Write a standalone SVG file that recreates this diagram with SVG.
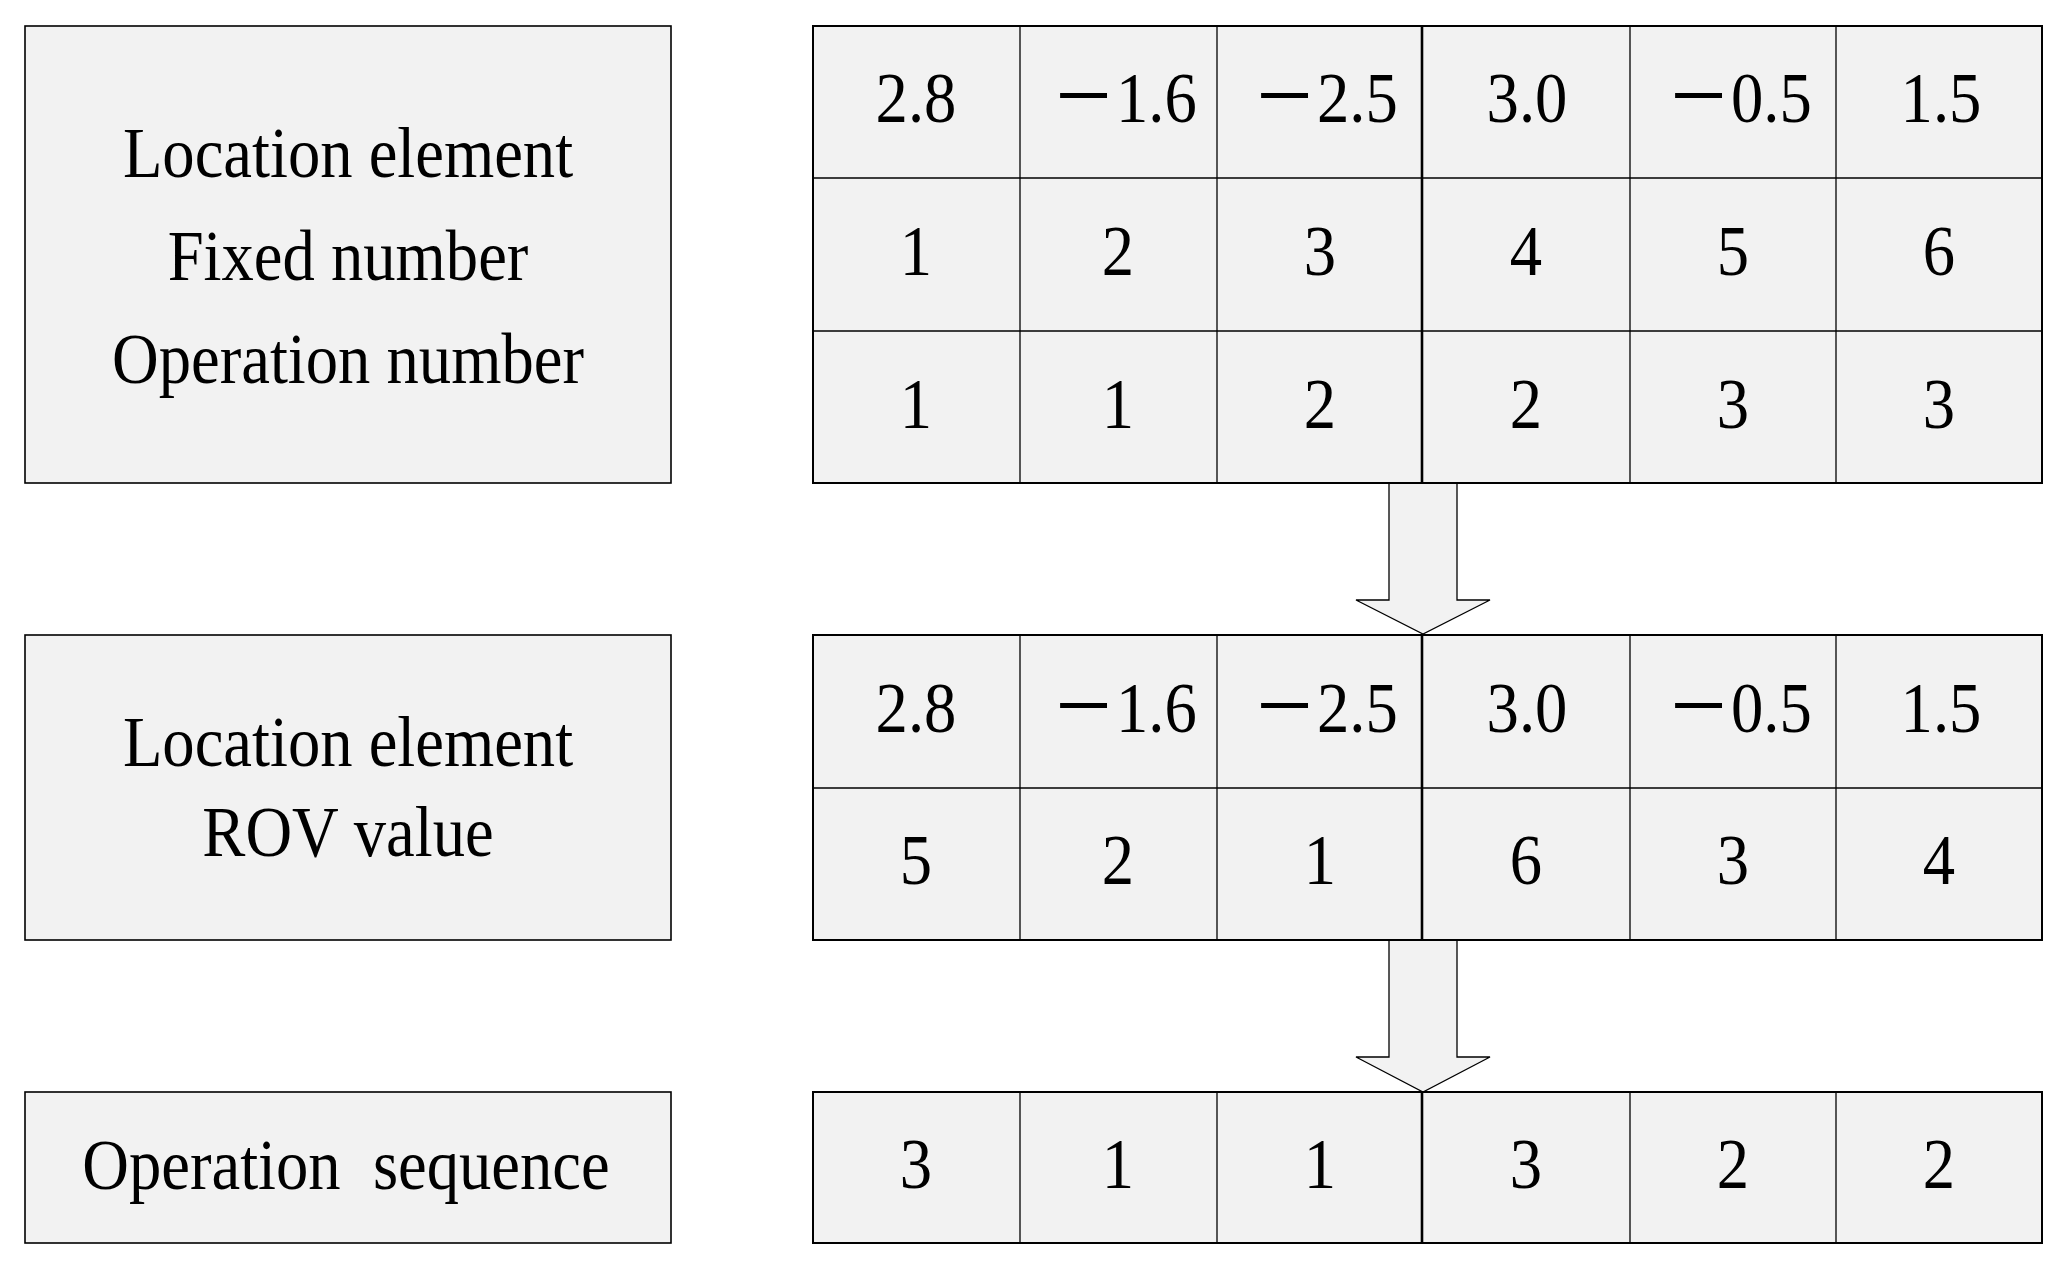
<svg xmlns="http://www.w3.org/2000/svg" width="2063" height="1276" viewBox="0 0 2063 1276">
<style>
  .bg { fill: #ffffff; }
  .box { fill: #f2f2f2; stroke: #000; stroke-width: 1.6; }
  .cell { fill: #f2f2f2; stroke: #000; stroke-width: 1.3; }
  .frame { fill: none; stroke: #000; stroke-width: 2; }
  .mid { stroke: #000; stroke-width: 2.6; }
  .arrow { fill: #f2f2f2; stroke: #000; stroke-width: 1.3; stroke-linejoin: miter; }
  text { font-family: "Liberation Serif", "Times New Roman", "Noto Sans CJK SC", serif; font-size: 71px; fill: #000; text-anchor: middle; }
</style>
<rect class="bg" x="0" y="0" width="2063" height="1276"/>

<g id="label-1">
  <rect class="box" x="25" y="26" width="646" height="457"/>
  <text transform="translate(348,177) scale(0.91,1)">Location element</text>
  <text transform="translate(348,280) scale(0.91,1)">Fixed number</text>
  <text transform="translate(348,383) scale(0.91,1)">Operation number</text>
</g>

<g id="label-2">
  <rect class="box" x="25" y="635" width="646" height="305"/>
  <text transform="translate(348,766) scale(0.91,1)">Location element</text>
  <text transform="translate(348,856) scale(0.91,1)">ROV value</text>
</g>

<g id="label-3">
  <rect class="box" x="25" y="1092" width="646" height="151"/>
  <text xml:space="preserve" transform="translate(346,1189) scale(0.91,1)">Operation  sequence</text>
</g>

<g id="connectors">
  <polygon class="arrow" points="1389,483 1389,600 1356,600 1423,634 1490,600 1457,600 1457,483"/>
  <polygon class="arrow" points="1389,940 1389,1057 1356,1057 1423,1092 1490,1057 1457,1057 1457,940"/>
</g>

<g id="table-1">
  <rect class="cell" x="813" y="26" width="1229" height="457"/>
  <line class="cell" x1="1020" y1="26" x2="1020" y2="483"/>
  <line class="cell" x1="1217" y1="26" x2="1217" y2="483"/>
  <line class="mid" x1="1422" y1="26" x2="1422" y2="483"/>
  <line class="cell" x1="1630" y1="26" x2="1630" y2="483"/>
  <line class="cell" x1="1836" y1="26" x2="1836" y2="483"/>
  <line class="cell" x1="813" y1="178" x2="2042" y2="178"/>
  <line class="cell" x1="813" y1="331" x2="2042" y2="331"/>
  <rect class="frame" x="813" y="26" width="1229" height="457"/>
  <text transform="translate(916,122) scale(0.91,1)">2.8</text>
  <text transform="translate(1124,122) scale(0.91,1)">－1.6</text>
  <text transform="translate(1325,122) scale(0.91,1)">－2.5</text>
  <text transform="translate(1527,122) scale(0.91,1)">3.0</text>
  <text transform="translate(1739,122) scale(0.91,1)">－0.5</text>
  <text transform="translate(1941,122) scale(0.91,1)">1.5</text>
  <text transform="translate(916,275) scale(0.91,1)">1</text>
  <text transform="translate(1118,275) scale(0.91,1)">2</text>
  <text transform="translate(1320,275) scale(0.91,1)">3</text>
  <text transform="translate(1526,275) scale(0.91,1)">4</text>
  <text transform="translate(1733,275) scale(0.91,1)">5</text>
  <text transform="translate(1939,275) scale(0.91,1)">6</text>
  <text transform="translate(916,428) scale(0.91,1)">1</text>
  <text transform="translate(1118,428) scale(0.91,1)">1</text>
  <text transform="translate(1320,428) scale(0.91,1)">2</text>
  <text transform="translate(1526,428) scale(0.91,1)">2</text>
  <text transform="translate(1733,428) scale(0.91,1)">3</text>
  <text transform="translate(1939,428) scale(0.91,1)">3</text>
</g>

<g id="table-2">
  <rect class="cell" x="813" y="635" width="1229" height="305"/>
  <line class="cell" x1="1020" y1="635" x2="1020" y2="940"/>
  <line class="cell" x1="1217" y1="635" x2="1217" y2="940"/>
  <line class="mid" x1="1422" y1="635" x2="1422" y2="940"/>
  <line class="cell" x1="1630" y1="635" x2="1630" y2="940"/>
  <line class="cell" x1="1836" y1="635" x2="1836" y2="940"/>
  <line class="cell" x1="813" y1="788" x2="2042" y2="788"/>
  <rect class="frame" x="813" y="635" width="1229" height="305"/>
  <text transform="translate(916,732) scale(0.91,1)">2.8</text>
  <text transform="translate(1124,732) scale(0.91,1)">－1.6</text>
  <text transform="translate(1325,732) scale(0.91,1)">－2.5</text>
  <text transform="translate(1527,732) scale(0.91,1)">3.0</text>
  <text transform="translate(1739,732) scale(0.91,1)">－0.5</text>
  <text transform="translate(1941,732) scale(0.91,1)">1.5</text>
  <text transform="translate(916,884) scale(0.91,1)">5</text>
  <text transform="translate(1118,884) scale(0.91,1)">2</text>
  <text transform="translate(1320,884) scale(0.91,1)">1</text>
  <text transform="translate(1526,884) scale(0.91,1)">6</text>
  <text transform="translate(1733,884) scale(0.91,1)">3</text>
  <text transform="translate(1939,884) scale(0.91,1)">4</text>
</g>

<g id="table-3">
  <rect class="cell" x="813" y="1092" width="1229" height="151"/>
  <line class="cell" x1="1020" y1="1092" x2="1020" y2="1243"/>
  <line class="cell" x1="1217" y1="1092" x2="1217" y2="1243"/>
  <line class="mid" x1="1422" y1="1092" x2="1422" y2="1243"/>
  <line class="cell" x1="1630" y1="1092" x2="1630" y2="1243"/>
  <line class="cell" x1="1836" y1="1092" x2="1836" y2="1243"/>
  <rect class="frame" x="813" y="1092" width="1229" height="151"/>
  <text transform="translate(916,1188) scale(0.91,1)">3</text>
  <text transform="translate(1118,1188) scale(0.91,1)">1</text>
  <text transform="translate(1320,1188) scale(0.91,1)">1</text>
  <text transform="translate(1526,1188) scale(0.91,1)">3</text>
  <text transform="translate(1733,1188) scale(0.91,1)">2</text>
  <text transform="translate(1939,1188) scale(0.91,1)">2</text>
</g>
</svg>
